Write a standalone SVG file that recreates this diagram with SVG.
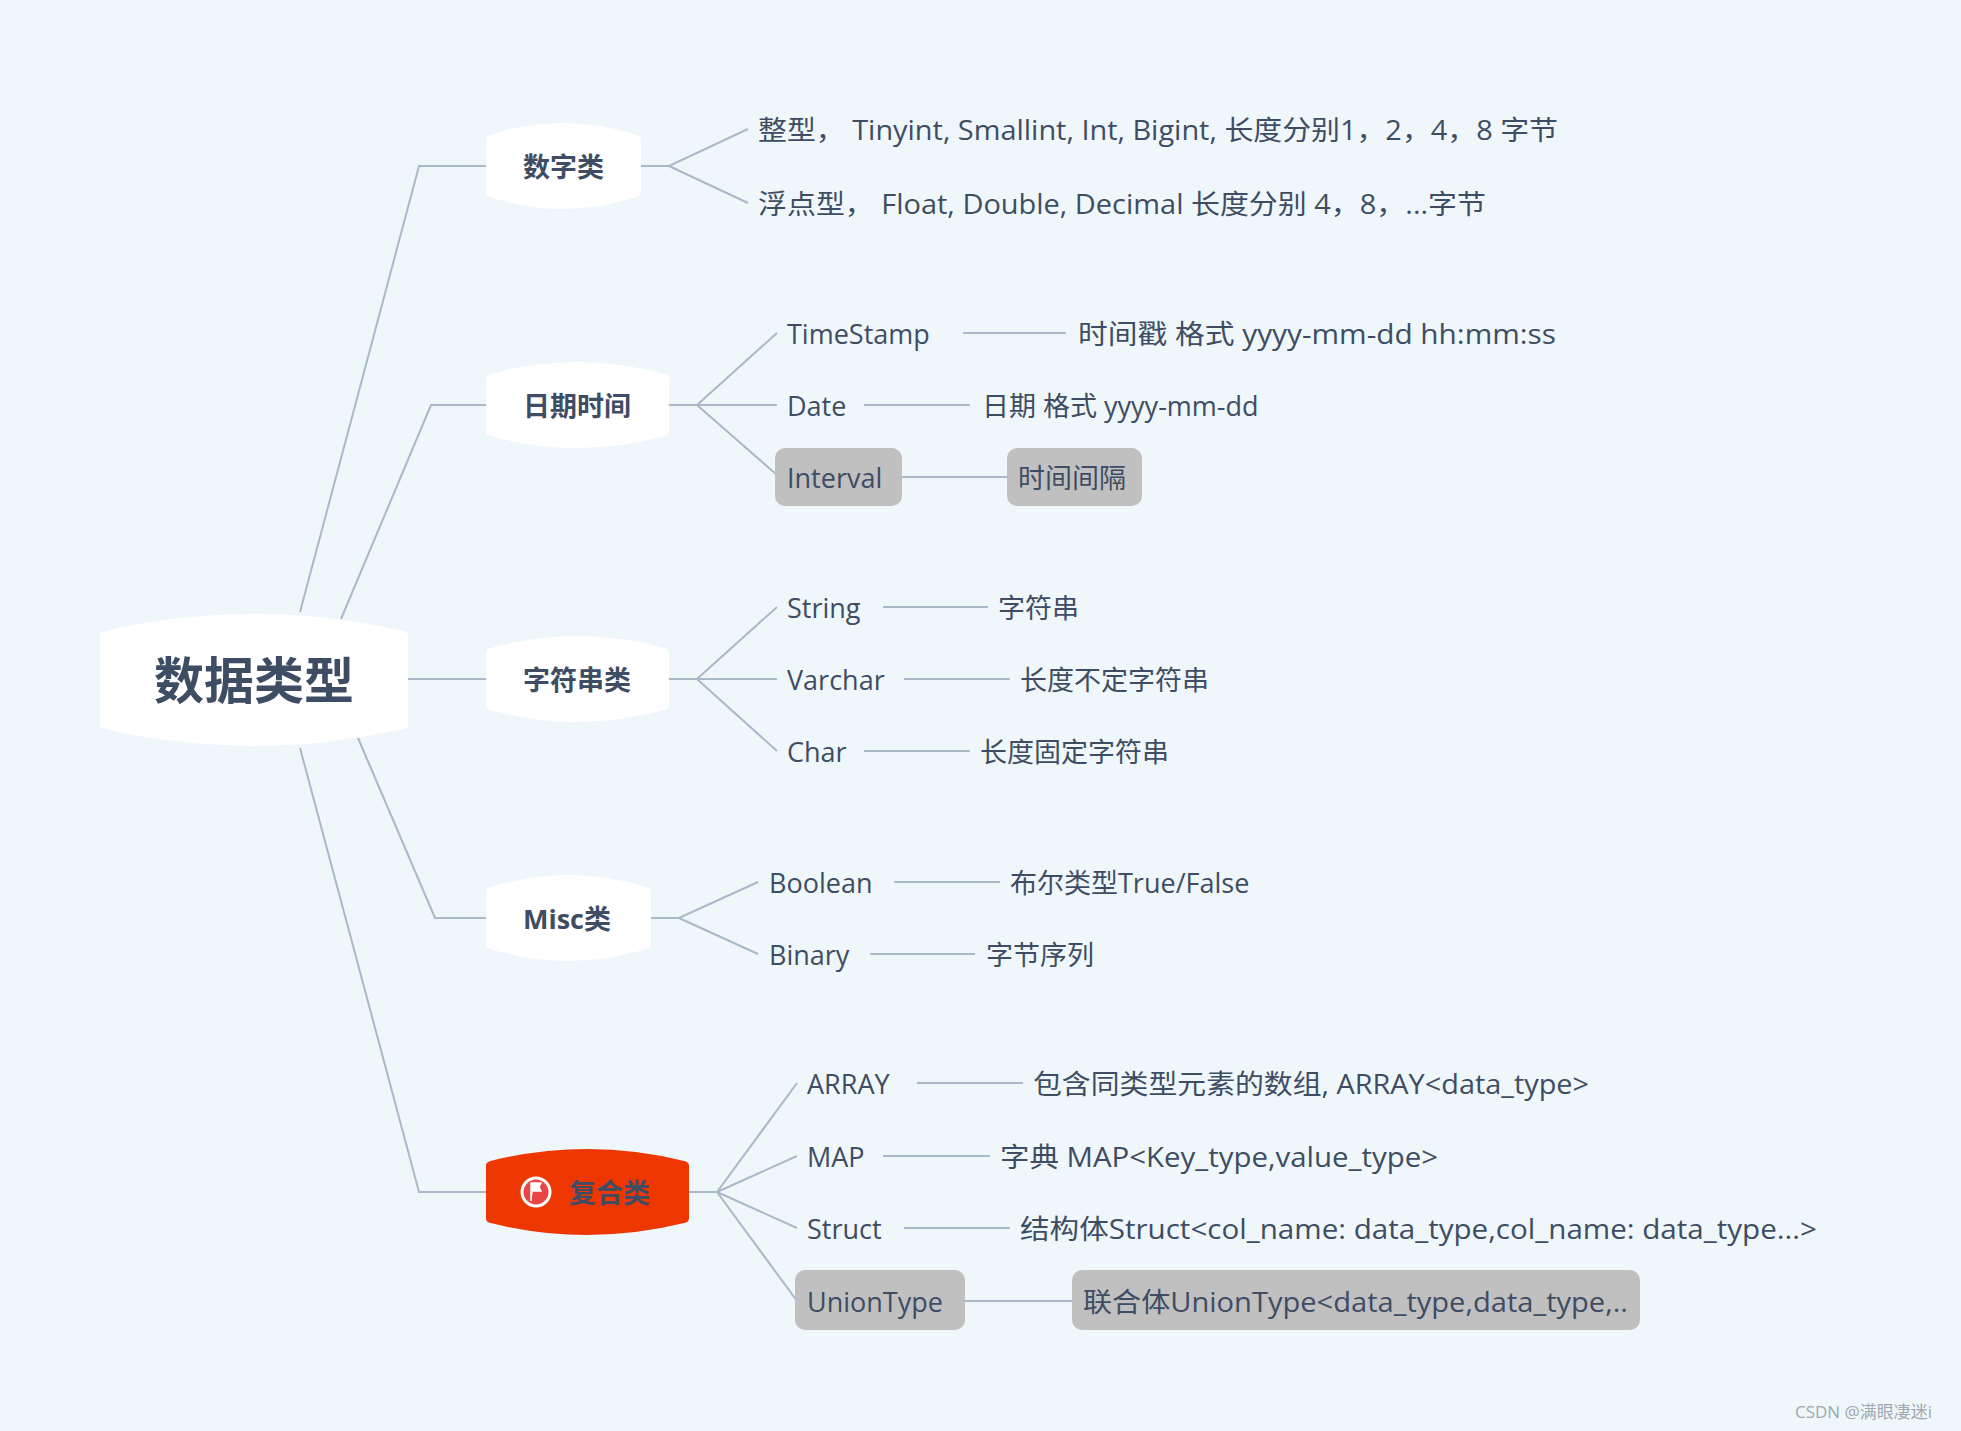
<svg xmlns="http://www.w3.org/2000/svg" width="1961" height="1431" viewBox="0 0 1961 1431">
<style>
text{font-family:"Open Sans","Noto Sans CJK SC",sans-serif;fill:#3e4d63;dominant-baseline:central}
.l2{font-size:27px}
.l1{font-size:27px;font-weight:bold}
.node{fill:#fff;stroke:#fff;stroke-width:10;stroke-linejoin:round}
.gray{fill:#c0c0c0}
.c{fill:none;stroke:#a9b9c9;stroke-width:2}
</style>
<rect width="1961" height="1431" fill="#eff7fa"/>
<g id="connectors" class="c">
<polyline points="300,612 419,166 486,166"/>
<polyline points="341,619 431,405 486,405"/>
<polyline points="408,679 486,679"/>
<polyline points="358,738 435,918 486,918"/>
<polyline points="300,748 419,1192 486,1192"/>
<path d="M641,166H669L748,129M669,166L748,203"/>
<path d="M669,405H697L777,333M697,405H777M697,405L777,475"/>
<path d="M963,333H1066M864,405H970M902,477H1007"/>
<path d="M669,679H697L777,607M697,679H777M697,679L777,751"/>
<path d="M883,607H988M904,679H1010M864,751H970"/>
<path d="M651,918H679L758,882M679,918L758,954"/>
<path d="M894,882H1000M870,954H975"/>
<path d="M689,1192H717L797,1083M717,1192L797,1156M717,1192L797,1228M717,1192L797,1301"/>
<path d="M917,1083H1023M883,1156H990M904,1228H1010M965,1301H1072"/>
</g>
<g id="root">
<path class="node" d="M105,636Q254,602 403,636L403,724Q254,758 105,724Z"/>
<text x="254" y="680" text-anchor="middle" style="font-size:50px;font-weight:bold">数据类型</text>
</g>
<g id="n1">
<path class="node" d="M491,140Q563,116 636,140L636,192Q563,216 491,192Z"/>
<text class="l1" x="523" y="166">数字类</text>
<text class="l2" x="758" y="129" textLength="800" lengthAdjust="spacingAndGlyphs">整型，  Tinyint, Smallint, Int, Bigint, 长度分别1，2，4，8 字节</text>
<text class="l2" x="758" y="203" textLength="728" lengthAdjust="spacingAndGlyphs">浮点型，  Float, Double, Decimal  长度分别 4，8，...字节</text>
</g>
<g id="n2">
<path class="node" d="M491,379Q577,355 664,379L664,431Q577,455 491,431Z"/>
<text class="l1" x="523" y="405">日期时间</text>
<text class="l2" x="787" y="333">TimeStamp</text>
<text class="l2" x="1078" y="333" textLength="478" lengthAdjust="spacingAndGlyphs">时间戳  格式 yyyy-mm-dd hh:mm:ss</text>
<text class="l2" x="787" y="405">Date</text>
<text class="l2" x="982" y="405">日期 格式 yyyy-mm-dd</text>
<rect class="gray" x="775" y="448" width="127" height="58" rx="10"/>
<text class="l2" x="787" y="477">Interval</text>
<rect class="gray" x="1007" y="448" width="135" height="58" rx="10"/>
<text class="l2" x="1018" y="477">时间间隔</text>
</g>
<g id="n3">
<path class="node" d="M491,653Q577,629 664,653L664,705Q577,729 491,705Z"/>
<text class="l1" x="523" y="679">字符串类</text>
<text class="l2" x="787" y="607">String</text>
<text class="l2" x="998" y="607">字符串</text>
<text class="l2" x="787" y="679">Varchar</text>
<text class="l2" x="1020" y="679">长度不定字符串</text>
<text class="l2" x="787" y="751">Char</text>
<text class="l2" x="980" y="751">长度固定字符串</text>
</g>
<g id="n4">
<path class="node" d="M491,892Q568,868 646,892L646,944Q568,968 491,944Z"/>
<text class="l1" x="523" y="918">Misc类</text>
<text class="l2" x="769" y="882">Boolean</text>
<text class="l2" x="1010" y="882">布尔类型True/False</text>
<text class="l2" x="769" y="954">Binary</text>
<text class="l2" x="986" y="954">字节序列</text>
</g>
<g id="n5">
<path d="M491,1166Q587,1142 684,1166L684,1218Q587,1242 491,1218Z" fill="#ee3600" stroke="#ee3600" stroke-width="10" stroke-linejoin="round"/>
<circle cx="536" cy="1192" r="14" fill="#e84545" stroke="#fff" stroke-width="3"/>
<path d="M531,1201V1183H541L539,1187L541,1191H533" fill="#fff" stroke="#fff" stroke-width="1.5"/>
<text class="l1" x="569" y="1192">复合类</text>
<text class="l2" x="807" y="1083">ARRAY</text>
<text class="l2" x="1033" y="1083" textLength="556" lengthAdjust="spacingAndGlyphs">包含同类型元素的数组, ARRAY&lt;data_type&gt;</text>
<text class="l2" x="807" y="1156">MAP</text>
<text class="l2" x="1000" y="1156" textLength="438" lengthAdjust="spacingAndGlyphs">字典 MAP&lt;Key_type,value_type&gt;</text>
<text class="l2" x="807" y="1228">Struct</text>
<text class="l2" x="1020" y="1228" textLength="797" lengthAdjust="spacingAndGlyphs">结构体Struct&lt;col_name: data_type,col_name: data_type...&gt;</text>
<rect class="gray" x="795" y="1270" width="170" height="60" rx="10"/>
<text class="l2" x="807" y="1301">UnionType</text>
<rect class="gray" x="1072" y="1270" width="568" height="60" rx="10"/>
<text class="l2" x="1083" y="1301" textLength="545" lengthAdjust="spacingAndGlyphs">联合体UnionType&lt;data_type,data_type,..</text>
</g>
<text x="1795" y="1411" style="font-size:17px;fill:#a0a8b0">CSDN @满眼凄迷i</text>
</svg>
